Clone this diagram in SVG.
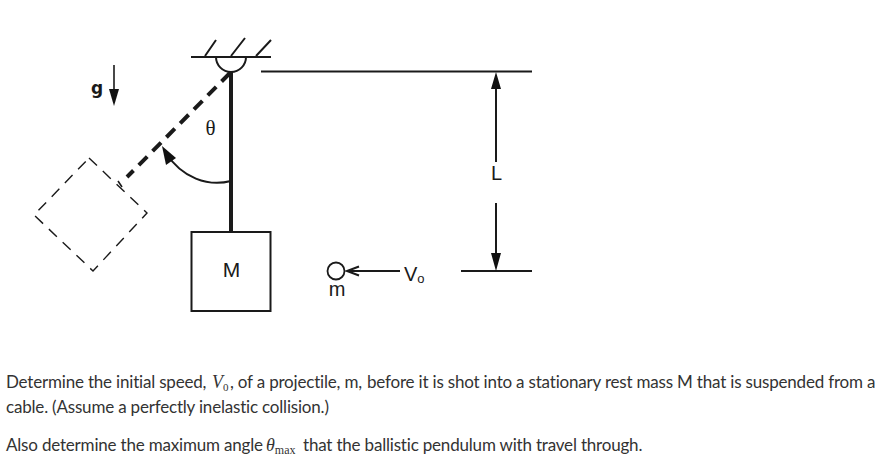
<svg xmlns="http://www.w3.org/2000/svg" width="885" height="474" viewBox="0 0 885 474">
<style>
.l{fill:none;stroke:#1a1a1a;stroke-width:2}
.f{fill:#111;stroke:none}
.s{font-family:"Liberation Sans",Arial,sans-serif;fill:#1a1a1a;font-size:20px}
.p{font-family:Lato,sans-serif;fill:#333;font-size:17px;letter-spacing:-0.19px}
.m{font-family:"Liberation Serif","DejaVu Serif",serif;font-style:italic;fill:#333}
</style>
<rect width="885" height="474" fill="#fff"/>
<g id="ceiling">
<path class="l" d="M191 57H271M205 56L216 40M231 56L245 38M256 56L271 40"/>
<path class="l" d="M216 57A15 15 0 0 0 246 57"/>
</g>
<g id="connectors">
<path d="M231 72V232" fill="none" stroke="#1a1a1a" stroke-width="4"/>
<path d="M230 73L127 177" fill="none" stroke="#1a1a1a" stroke-width="4" stroke-dasharray="12 7.600"/>
<path d="M118 181L122 187" fill="none" stroke="#1a1a1a" stroke-width="1.600"/>
<path class="l" d="M231 181C208 187 182 178 166 153"/>
<path class="f" d="M162 146L176 158L166 165Z"/>
<path class="l" d="M261 71.500H532M461 271H532M496 85V162M496 203V258"/>
<path class="f" d="M496 72L501 89H491ZM496 271L491 253H501Z"/>
<path d="M114 65V92" fill="none" stroke="#1a1a1a" stroke-width="1.600"/>
<path class="f" d="M114 106L109 89H119Z"/>
<path class="l" d="M400 271H347M359 266.500L347 271L359 275.500"/>
</g>
<g id="ghost-mass">
<path d="M89 158L147 213L93 271L34 215Z" fill="none" stroke="#1a1a1a" stroke-width="1.400" stroke-dasharray="11 8"/>
</g>
<g id="mass-M">
<rect x="191.500" y="232" width="79" height="79" fill="#fff" stroke="#1a1a1a" stroke-width="2"/>
<text class="s" x="231.500" y="277" text-anchor="middle" font-size="21" style="font-size:21px">M</text>
</g>
<g id="projectile">
<circle cx="336" cy="271" r="8.500" fill="#fff" stroke="#1a1a1a" stroke-width="1.800"/>
<text class="s" x="337" y="296" text-anchor="middle">m</text>
</g>
<g id="labels">
<text x="91" y="94" font-family="'DejaVu Sans',sans-serif" font-weight="bold" font-size="17" fill="#1a1a1a">g</text>
<text x="210.500" y="135" text-anchor="middle" font-family="'Liberation Serif',serif" font-size="21" fill="#1a1a1a">θ</text>
<text class="s" x="496.500" y="180" text-anchor="middle">L</text>
<text class="s" x="404" y="281">V<tspan style="font-size:13px" dy="2">o</tspan></text>
</g>
<g id="problem-text">
<text class="p" x="6" y="388">Determine the initial speed,</text>
<text class="m" x="212" y="388" font-size="18">V<tspan font-size="11" dy="3" font-style="normal">0</tspan></text>
<text class="p" x="230" y="388">, of a projectile, m,</text>
<text class="p" x="367" y="388">before it is shot into a stationary rest mass M that is suspended from a</text>
<text class="p" x="6" y="413">cable. (Assume a perfectly inelastic collision.)</text>
<text class="p" x="6" y="451">Also determine the maximum angle</text>
<text class="m" x="266" y="451" font-size="18">θ<tspan font-size="12" dy="3" font-style="normal">max</tspan></text>
<text class="p" x="303" y="451">that the ballistic pendulum with travel through.</text>
</g>
</svg>
